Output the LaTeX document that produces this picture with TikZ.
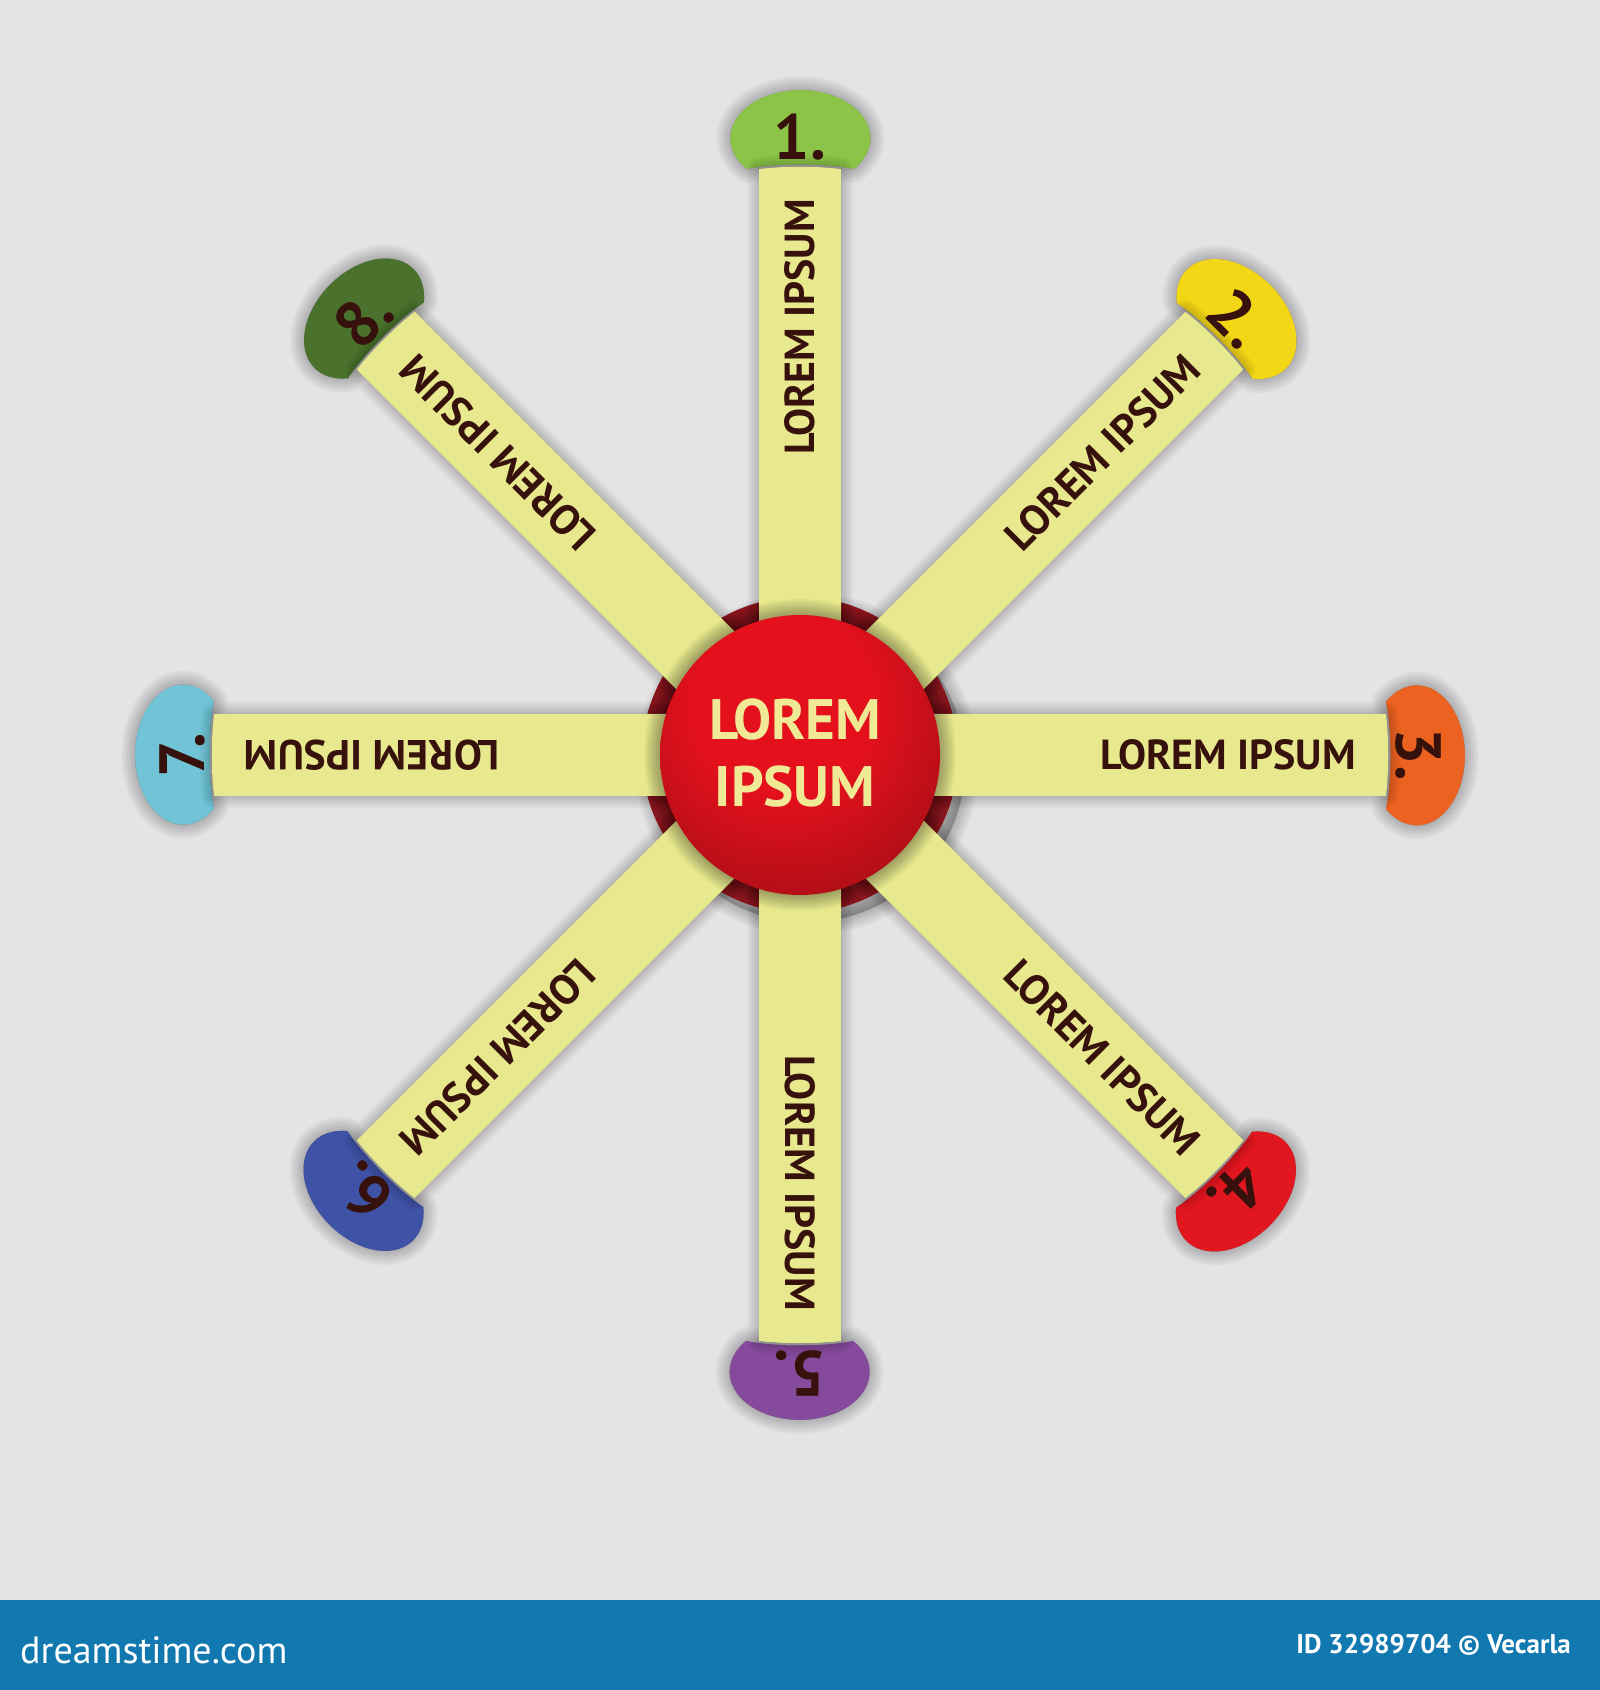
\documentclass[tikz,border=0pt]{standalone}
\usepackage{fontspec}
\setmainfont{PT Sans}
\usetikzlibrary{calc}
\definecolor{bg}{RGB}{228,228,230}
\definecolor{armc}{RGB}{232,233,142}
\definecolor{txt}{RGB}{55,18,12}
\definecolor{ringc}{RGB}{138,22,28}
\definecolor{rb1}{RGB}{228,16,28}
\definecolor{rb2}{RGB}{122,14,20}
\definecolor{footc}{RGB}{17,120,176}
\definecolor{c1}{RGB}{140,196,72}
\definecolor{c2}{RGB}{243,214,22}
\definecolor{c3}{RGB}{236,98,32}
\definecolor{c4}{RGB}{226,22,30}
\definecolor{c5}{RGB}{134,74,156}
\definecolor{c6}{RGB}{62,82,166}
\definecolor{c7}{RGB}{112,196,214}
\definecolor{c8}{RGB}{74,114,44}
\definecolor{ctext}{RGB}{240,234,150}
\pgfdeclareradialshading{redball}{\pgfpoint{-4bp}{12bp}}{color(0bp)=(rb1); color(16bp)=(rb1); color(50bp)=(rb2); color(70bp)=(rb2)}
\newcommand\mycappath{(586,-54) arc[start angle=-130, end angle=130, x radius=48, y radius=70] .. controls (592,25) and (592,-25) .. (586,-54) -- cycle}
\newcommand\myarmpath{(0,-41) -- (586,-41) .. controls (589,-15) and (589,15) .. (586,41) -- (0,41) -- cycle}
\begin{document}
\begin{tikzpicture}[x=1pt,y=1pt,
  shadowlayer/.style={draw=black, fill=black, opacity=0.032, line width=#1, line join=round},
  armtext/.style={text=txt, font=\bfseries\fontsize{42}{42}\selectfont, inner sep=0pt},
  capnum/.style={text=txt, font=\bfseries\fontsize{64}{64}\selectfont, inner sep=0pt},
  hubtext/.style={text=ctext, font=\bfseries\fontsize{57}{67}\selectfont, align=center, inner sep=0pt},
  foottext/.style={text=white, inner sep=0pt}
]
\useasboundingbox (0,0) rectangle (1600,1690);
\fill[bg] (0,0) rectangle (1600,1690);
\fill[footc] (0,0) rectangle (1600,90);
\node[foottext, font=\fontsize{38}{38}\selectfont, anchor=west] (logo) at (20,40) {dreamstime.com};
\node[foottext, font=\bfseries\fontsize{27}{27}\selectfont, anchor=east] (credit) at (1571,45) {ID 32989704 © Vecarla};

\coordinate (C) at (800,935);
\foreach \w in {0,4,...,28} \path[shadowlayer=\w] ($(C)+(7,-9)$) circle (158);
\fill[ringc] (C) circle (158);

\foreach \i/\a/\col in {1/90/c1, 2/45/c2, 3/0/c3, 4/-45/c4, 5/-90/c5, 6/-135/c6, 7/180/c7, 8/135/c8} {
  \begin{scope}[shift={(8,-11)}]
    \begin{scope}[shift={(C)}, rotate=\a]
      \foreach \w in {0,4,...,28} \path[shadowlayer=\w] \mycappath;
    \end{scope}
  \end{scope}
  \begin{scope}[shift={(C)}, rotate=\a]
    \fill[\col] \mycappath;
  \end{scope}
  \begin{scope}[shift={(7,-9)}]
    \begin{scope}[shift={(C)}, rotate=\a]
      \foreach \w in {0,4,...,24} \path[shadowlayer=\w] \myarmpath;
    \end{scope}
  \end{scope}
  \begin{scope}[shift={(C)}, rotate=\a]
    \fill[armc] \myarmpath;
  \end{scope}
}
\foreach \i/\a in {1/90, 2/45, 3/0, 4/-45, 5/-90, 6/-135, 7/180, 8/135} {
  \begin{scope}[shift={(C)}, rotate=\a]
    \node[armtext, rotate=\a] (t\i) at (428,0) {LOREM IPSUM};
    \node[capnum, rotate=\a-90] (n\i) at (618,0) {\i.};
  \end{scope}
}

\foreach \k in {1,...,10} \fill[black, opacity=0.035] (C) circle (139+1.7*\k);
\node[circle, minimum size=280pt, inner sep=0pt, shading=redball] (hub) at (C) {};
\node[hubtext] (hubt) at (795,937) {LOREM\\IPSUM};
\end{tikzpicture}
\end{document}
